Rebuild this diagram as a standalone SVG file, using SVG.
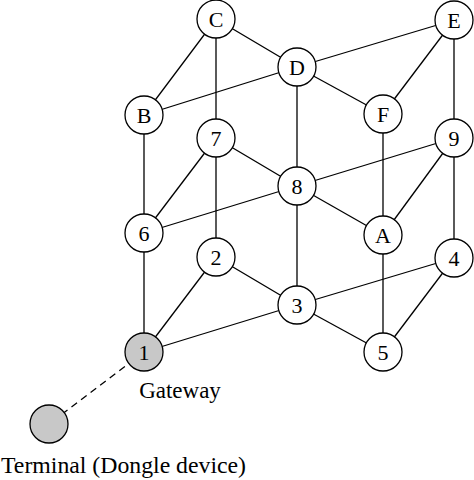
<svg xmlns="http://www.w3.org/2000/svg" width="474" height="480" viewBox="0 0 474 480">
<style>
.e{stroke:#000;stroke-width:1.3;fill:none}
.n circle{fill:#fff;stroke:#000;stroke-width:1.3}
.g circle{fill:#c8c8c8}
text{font-family:"Liberation Serif","Times New Roman",serif;fill:#000}
.n text{font-size:22px;text-anchor:middle}
.lbl{font-size:23px}
</style>
<rect width="474" height="480" fill="#fff"/>
<g id="connectors" class="e">
<line x1="216" y1="19" x2="297" y2="67"/>
<line x1="216" y1="19" x2="144" y2="115"/>
<line x1="216" y1="19" x2="216" y2="138"/>
<line x1="216" y1="138" x2="216" y2="257"/>
<line x1="454" y1="20" x2="297" y2="67"/>
<line x1="454" y1="20" x2="383" y2="114"/>
<line x1="454" y1="20" x2="454" y2="138"/>
<line x1="297" y1="67" x2="144" y2="115"/>
<line x1="297" y1="67" x2="383" y2="114"/>
<line x1="297" y1="67" x2="297" y2="186"/>
<line x1="144" y1="115" x2="144" y2="233"/>
<line x1="383" y1="114" x2="383" y2="235"/>
<line x1="216" y1="138" x2="144" y2="233"/>
<line x1="216" y1="138" x2="297" y2="186"/>
<line x1="454" y1="138" x2="297" y2="186"/>
<line x1="454" y1="138" x2="383" y2="235"/>
<line x1="454" y1="138" x2="454" y2="258"/>
<line x1="297" y1="186" x2="144" y2="233"/>
<line x1="297" y1="186" x2="383" y2="235"/>
<line x1="297" y1="186" x2="297" y2="305"/>
<line x1="144" y1="233" x2="144" y2="352"/>
<line x1="383" y1="235" x2="383" y2="352"/>
<line x1="216" y1="257" x2="144" y2="352"/>
<line x1="216" y1="257" x2="297" y2="305"/>
<line x1="454" y1="258" x2="297" y2="305"/>
<line x1="454" y1="258" x2="383" y2="352"/>
<line x1="297" y1="305" x2="144" y2="352"/>
<line x1="297" y1="305" x2="383" y2="352"/>
<line x1="144" y1="352" x2="49" y2="424" stroke-dasharray="7,5"/>
</g>
<g id="node-C" class="n"><circle cx="216" cy="19" r="19"/><text x="216" y="26.5">C</text></g>
<g id="node-E" class="n"><circle cx="454" cy="20" r="19"/><text x="454" y="27.5">E</text></g>
<g id="node-D" class="n"><circle cx="297" cy="67" r="19"/><text x="297" y="74.5">D</text></g>
<g id="node-B" class="n"><circle cx="144" cy="115" r="19"/><text x="144" y="122.5">B</text></g>
<g id="node-F" class="n"><circle cx="383" cy="114" r="19"/><text x="383" y="121.5">F</text></g>
<g id="node-7" class="n"><circle cx="216" cy="138" r="19"/><text x="216" y="145.5">7</text></g>
<g id="node-9" class="n"><circle cx="454" cy="138" r="19"/><text x="454" y="145.5">9</text></g>
<g id="node-8" class="n"><circle cx="297" cy="186" r="19"/><text x="297" y="193.5">8</text></g>
<g id="node-6" class="n"><circle cx="144" cy="233" r="19"/><text x="144" y="240.5">6</text></g>
<g id="node-A" class="n"><circle cx="383" cy="235" r="19"/><text x="383" y="242.5">A</text></g>
<g id="node-2" class="n"><circle cx="216" cy="257" r="19"/><text x="216" y="264.5">2</text></g>
<g id="node-4" class="n"><circle cx="454" cy="258" r="19"/><text x="454" y="265.5">4</text></g>
<g id="node-3" class="n"><circle cx="297" cy="305" r="19"/><text x="297" y="312.5">3</text></g>
<g id="node-5" class="n"><circle cx="383" cy="352" r="19"/><text x="383" y="359.5">5</text></g>
<g id="node-1" class="n g"><circle cx="144" cy="352" r="19"/><text x="144" y="359.5">1</text></g>
<g id="node-terminal" class="n g"><circle cx="49" cy="424" r="19"/></g>
<text class="lbl" x="180" y="398" text-anchor="middle">Gateway</text>
<text class="lbl" x="1" y="473" textLength="245" lengthAdjust="spacingAndGlyphs">Terminal (Dongle device)</text>
</svg>
